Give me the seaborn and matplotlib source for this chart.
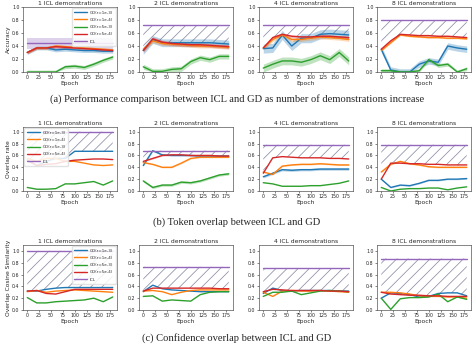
import numpy as np
import pandas as pd
import matplotlib
matplotlib.use("Agg")
import matplotlib.pyplot as plt
from matplotlib.lines import Line2D
import seaborn as sns

EPOCHS = [0, 20, 40, 60, 80, 100, 120, 140, 160, 180]
DEMOS = ["1 ICL demonstrations", "2 ICL demonstrations",
         "4 ICL demonstrations", "8 ICL demonstrations"]
RUNS = ["GD(r=1e-3)", "GD(r=1e-4)", "GD(r=5e-3)", "GD(r=5e-4)"]
XTICKS = [0, 25, 50, 75, 100, 125, 150, 175]
YTICKS = [0.0, 0.2, 0.4, 0.6, 0.8, 1.0]

# ---------------- accuracy (row a) ----------------
acc_lr1e3 = [
    [0.30, 0.37, 0.37, 0.34, 0.35, 0.34, 0.33, 0.33, 0.32, 0.32],
    [0.33, 0.50, 0.45, 0.45, 0.45, 0.45, 0.45, 0.45, 0.44, 0.43],
    [0.36, 0.37, 0.57, 0.40, 0.52, 0.52, 0.58, 0.59, 0.58, 0.57],
    [0.35, 0.03, 0.00, 0.00, 0.12, 0.17, 0.15, 0.40, 0.37, 0.35],
]
acc_lr1e4 = [
    [0.30, 0.37, 0.37, 0.40, 0.39, 0.38, 0.37, 0.36, 0.35, 0.34],
    [0.35, 0.48, 0.44, 0.43, 0.42, 0.41, 0.40, 0.40, 0.39, 0.38],
    [0.37, 0.50, 0.57, 0.50, 0.50, 0.52, 0.54, 0.53, 0.52, 0.50],
    [0.33, 0.45, 0.57, 0.55, 0.54, 0.53, 0.53, 0.52, 0.52, 0.51],
]
acc_lr5e3 = [
    [0.00, 0.00, 0.00, 0.00, 0.08, 0.09, 0.07, 0.12, 0.18, 0.23],
    [0.08, 0.01, 0.01, 0.04, 0.05, 0.16, 0.22, 0.19, 0.24, 0.24],
    [0.06, 0.12, 0.17, 0.17, 0.15, 0.19, 0.25, 0.19, 0.30, 0.17],
    [0.02, 0.02, 0.00, 0.00, 0.02, 0.19, 0.10, 0.12, 0.00, 0.05],
]
acc_lr5e4 = [
    [0.30, 0.37, 0.37, 0.39, 0.38, 0.37, 0.36, 0.35, 0.34, 0.33],
    [0.33, 0.51, 0.46, 0.44, 0.43, 0.42, 0.42, 0.41, 0.40, 0.39],
    [0.37, 0.53, 0.58, 0.55, 0.54, 0.54, 0.55, 0.55, 0.54, 0.53],
    [0.35, 0.48, 0.58, 0.57, 0.56, 0.56, 0.55, 0.55, 0.54, 0.53],
]
# spread of the seeds around each mean curve, one value per run and panel
acc_sd_lr1e3 = [0.03, 0.06, 0.07, 0.05]
acc_sd_lr1e4 = [0.02, 0.03, 0.03, 0.01]
acc_sd_lr5e3 = [0.03, 0.04, 0.06, 0.03]
acc_sd_lr5e4 = [0.02, 0.03, 0.02, 0.01]
acc_icl = [0.44, 0.72, 0.72, 0.80]
acc_icl_sd = [0.08, 0.0, 0.0, 0.0]

# ---------------- token overlap (row b) ----------------
tok_lr1e3 = [
    [0.52, 0.43, 0.50, 0.55, 0.55, 0.67, 0.67, 0.67, 0.67, 0.67],
    [0.43, 0.68, 0.61, 0.60, 0.60, 0.60, 0.59, 0.59, 0.59, 0.59],
    [0.24, 0.30, 0.36, 0.35, 0.36, 0.36, 0.37, 0.37, 0.37, 0.37],
    [0.20, 0.06, 0.10, 0.09, 0.13, 0.18, 0.18, 0.20, 0.20, 0.21],
]
tok_lr1e4 = [
    [0.55, 0.50, 0.55, 0.55, 0.50, 0.50, 0.47, 0.44, 0.43, 0.44],
    [0.48, 0.45, 0.40, 0.40, 0.47, 0.55, 0.57, 0.57, 0.57, 0.57],
    [0.32, 0.28, 0.42, 0.44, 0.45, 0.45, 0.46, 0.45, 0.44, 0.44],
    [0.32, 0.45, 0.50, 0.46, 0.44, 0.41, 0.40, 0.40, 0.40, 0.40],
]
tok_lr5e3 = [
    [0.06, 0.03, 0.03, 0.04, 0.12, 0.12, 0.14, 0.16, 0.10, 0.17],
    [0.17, 0.06, 0.10, 0.10, 0.15, 0.14, 0.17, 0.22, 0.27, 0.29],
    [0.14, 0.12, 0.08, 0.08, 0.08, 0.09, 0.09, 0.11, 0.13, 0.17],
    [0.06, 0.00, 0.03, 0.04, 0.04, 0.05, 0.05, 0.02, 0.05, 0.07],
]
tok_lr5e4 = [
    [0.52, 0.43, 0.45, 0.46, 0.50, 0.52, 0.53, 0.54, 0.54, 0.53],
    [0.50, 0.55, 0.60, 0.61, 0.61, 0.60, 0.60, 0.60, 0.59, 0.59],
    [0.30, 0.56, 0.58, 0.57, 0.56, 0.56, 0.56, 0.55, 0.55, 0.54],
    [0.20, 0.47, 0.47, 0.46, 0.46, 0.45, 0.45, 0.44, 0.44, 0.44],
]
tok_sd_lr1e3 = [0.0, 0.01, 0.02, 0.01]
tok_sd_lr1e4 = [0.0, 0.01, 0.01, 0.01]
tok_sd_lr5e3 = [0.0, 0.02, 0.0, 0.0]
tok_sd_lr5e4 = [0.0, 0.01, 0.0, 0.0]
tok_icl = [1.0, 0.68, 0.78, 0.78]

# ---------------- confidence overlap (row c) ----------------
conf_lr1e3 = [
    [0.32, 0.32, 0.35, 0.37, 0.38, 0.38, 0.38, 0.38, 0.38, 0.38],
    [0.31, 0.42, 0.36, 0.34, 0.33, 0.32, 0.31, 0.31, 0.31, 0.31],
    [0.28, 0.37, 0.33, 0.32, 0.33, 0.33, 0.33, 0.33, 0.32, 0.32],
    [0.20, 0.29, 0.28, 0.26, 0.22, 0.23, 0.28, 0.29, 0.29, 0.24],
]
conf_lr1e4 = [
    [0.31, 0.33, 0.30, 0.32, 0.33, 0.34, 0.33, 0.32, 0.31, 0.30],
    [0.32, 0.33, 0.31, 0.26, 0.30, 0.33, 0.34, 0.34, 0.34, 0.34],
    [0.30, 0.23, 0.32, 0.33, 0.32, 0.32, 0.33, 0.32, 0.31, 0.30],
    [0.30, 0.30, 0.29, 0.27, 0.24, 0.23, 0.23, 0.22, 0.22, 0.20],
]
conf_lr5e3 = [
    [0.21, 0.12, 0.12, 0.14, 0.15, 0.16, 0.17, 0.20, 0.14, 0.22],
    [0.23, 0.24, 0.15, 0.17, 0.16, 0.15, 0.26, 0.30, 0.31, 0.31],
    [0.23, 0.30, 0.30, 0.32, 0.26, 0.29, 0.32, 0.33, 0.32, 0.31],
    [0.20, 0.01, 0.19, 0.21, 0.21, 0.22, 0.27, 0.14, 0.22, 0.18],
]
conf_lr5e4 = [
    [0.32, 0.33, 0.28, 0.27, 0.31, 0.35, 0.35, 0.35, 0.35, 0.35],
    [0.32, 0.37, 0.37, 0.37, 0.37, 0.37, 0.37, 0.37, 0.36, 0.36],
    [0.31, 0.35, 0.34, 0.33, 0.33, 0.33, 0.33, 0.32, 0.32, 0.31],
    [0.30, 0.27, 0.26, 0.25, 0.25, 0.24, 0.24, 0.23, 0.23, 0.23],
]
conf_icl = [1.0, 0.73, 0.71, 0.87]

CAPTIONS = [
    "(a) Performance comparison between ICL and GD as number of demonstrations increase",
    "(b) Token overlap between ICL and GD",
    "(c) Confidence overlap between ICL and GD",
]
YLABELS = ["Accuracy", "Overlap rate", "Overlap Cosine Similarity"]

PALETTE = {"GD(r=1e-3)": "#1f77b4", "GD(r=1e-4)": "#ff7f0e",
           "GD(r=5e-3)": "#2ca02c", "GD(r=5e-4)": "#d62728"}
ICL_COLOR = "#9467bd"
HATCH_COLOR = "#8c8fa6"

sns.set_style("ticks")
plt.rcParams["font.family"] = ["DejaVu Sans"]
plt.rcParams["hatch.linewidth"] = 0.55

fig = plt.figure(figsize=(4.74, 3.48), dpi=100)
W, H = 474.0, 348.0

COL_LEFT = [23, 139, 259, 377]
COL_W = 94
ROW_TOP = [7, 127, 245]
ROW_BOT = [72, 191, 310]
YMAX = [1.0, 1.08, 1.1]
CAP_Y = [99, 222, 338]

rows = [
    ([acc_lr1e3, acc_lr1e4, acc_lr5e3, acc_lr5e4],
     [acc_sd_lr1e3, acc_sd_lr1e4, acc_sd_lr5e3, acc_sd_lr5e4],
     acc_icl, acc_icl_sd),
    ([tok_lr1e3, tok_lr1e4, tok_lr5e3, tok_lr5e4],
     [tok_sd_lr1e3, tok_sd_lr1e4, tok_sd_lr5e3, tok_sd_lr5e4],
     tok_icl, None),
    ([conf_lr1e3, conf_lr1e4, conf_lr5e3, conf_lr5e4],
     None, conf_icl, None),
]
legend_loc = ["upper right", "upper left", "upper right"]

for r, (series, spreads, icl, icl_sd) in enumerate(rows):
    for c in range(4):
        ax = fig.add_axes([COL_LEFT[c] / W, 1 - ROW_BOT[r] / H,
                           COL_W / W, (ROW_BOT[r] - ROW_TOP[r]) / H])
        long = pd.DataFrame({
            "Epoch": EPOCHS * len(RUNS),
            "value": np.concatenate([s[c] for s in series]),
            "run": np.repeat(RUNS, len(EPOCHS)),
        })
        gd = np.array([s[c] for s in series])
        top = gd.max(axis=0)
        icl_line = np.full(len(EPOCHS), icl[c])
        has_band = icl_sd is not None and icl_sd[c] > 0

        # gap between the best GD run and ICL
        if not has_band:
            ax.fill_between(EPOCHS, top, icl_line, where=icl_line > top,
                            interpolate=True, facecolor="none",
                            edgecolor=HATCH_COLOR, hatch="///", lw=0,
                            zorder=1)
        else:
            ax.fill_between(EPOCHS, icl_line - icl_sd[c], icl_line + icl_sd[c],
                            color=ICL_COLOR, alpha=0.3, lw=0, zorder=1)

        if spreads is not None:
            for k, run in enumerate(RUNS):
                sd = spreads[k][c]
                if sd > 0:
                    m = np.array(series[k][c])
                    ax.fill_between(EPOCHS, np.clip(m - sd, 0, None), m + sd,
                                    color=PALETTE[run], alpha=0.3, lw=0,
                                    zorder=2)

        sns.lineplot(data=long, x="Epoch", y="value", hue="run",
                     palette=PALETTE, ax=ax, legend=False, lw=1.0, zorder=3)
        sns.lineplot(x=EPOCHS, y=icl_line, ax=ax, color=ICL_COLOR, lw=1.0,
                     zorder=3)

        ax.set_xlim(-9, 189)
        ax.set_ylim(0, YMAX[r])
        ax.set_xticks(XTICKS)
        ax.set_yticks(YTICKS)
        ax.set_yticklabels([f"{v:.1f}" for v in YTICKS])
        ax.tick_params(labelsize=3.4, length=1.5, width=0.4, pad=1)
        for sp in ax.spines.values():
            sp.set_linewidth(0.5)
            sp.set_color("#555555")
        ax.set_xlabel("Epoch", fontsize=4.3, labelpad=0.5)
        ax.set_ylabel(YLABELS[r] if c == 0 else "", fontsize=4.3, labelpad=1)
        ax.set_title(DEMOS[c], fontsize=4.3, pad=1.5)

        if c == 0:
            handles = [Line2D([], [], color=PALETTE[run], lw=1.0) for run in RUNS]
            handles.append(Line2D([], [], color=ICL_COLOR, lw=1.0))
            ax.legend(handles, RUNS + ["ICL"], loc=legend_loc[r],
                      fontsize=2.9, handlelength=3.2, frameon=True,
                      framealpha=0.85, borderpad=0.6, labelspacing=0.8,
                      handletextpad=0.7, borderaxespad=0.3,
                      edgecolor="#dddddd", fancybox=True)

    fig.text(0.5, 1 - CAP_Y[r] / H, CAPTIONS[r], ha="center", va="center",
             fontsize=7.6, family="Liberation Serif")

fig.savefig("out.png", dpi=100)
